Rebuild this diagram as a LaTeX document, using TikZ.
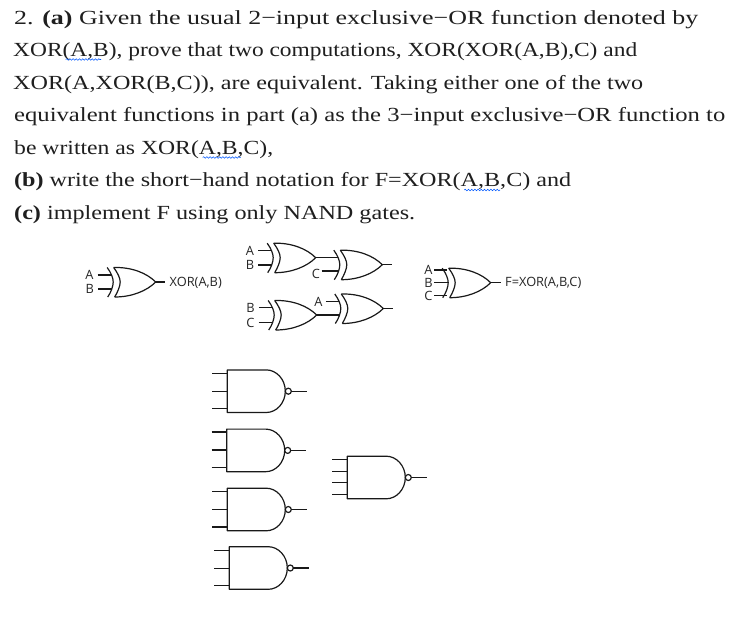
\documentclass[tikz,border=0pt]{standalone}
\usepackage{fontspec}
\setmainfont{Liberation Serif}
\newfontfamily\labelfont{Open Sans}
\usetikzlibrary{decorations.pathmorphing}
\tikzset{
  textline/.style={anchor=base west,inner sep=0pt,font=\fontsize{20}{24}\selectfont,text=black!88},
  lab/.style={inner sep=1.5pt,font=\labelfont\fontsize{12.8}{14}\selectfont,text=black!85},
  gateline/.style={line width=1.2pt,black!90,line join=round},
  wire/.style={line width=1.2pt,black!90},
  squiggle/.style={draw=blue!65!cyan,line width=.55pt,decorate,decoration={snake,amplitude=.8pt,segment length=3.2pt}},
  xorgate/.pic={
    \draw[gateline] (-48.5,-14.5) .. controls (-44.5,-9) and (-42.5,-4) .. (-42.5,0) .. controls (-42.5,4) and (-44.5,10) .. (-48,15);
    \draw[gateline] (-42,-14.5) .. controls (-38,-9) and (-35.5,-4) .. (-35.5,0) .. controls (-35.5,4) and (-38,10) .. (-41,15);
    \draw[gateline] (-42,-14.5) .. controls (-24,-15) and (-9,-9) .. (0,0) .. controls (-9,9) and (-24,15) .. (-41,15);
    \coordinate (-o) at (0,0);
    \coordinate (-a) at (-44,-7.2);
    \coordinate (-b) at (-44,7.2);
    \coordinate (-c) at (-42.5,0);
  },
  nandgate/.pic={
    \draw[gateline] (0,-21.3) -- (39,-21.3) .. controls (49,-21.3) and (58,-12) .. (58,0) .. controls (58,12) and (49,21.3) .. (39,21.3) -- (0,21.3) -- cycle;
    \draw[gateline,fill=white] (61,0) circle (3);
    \coordinate (-o) at (64,0);
    \coordinate (-back) at (0,0);
  }
}
\begin{document}
\begin{tikzpicture}[x=1pt,y=-1pt]
\useasboundingbox[fill=white] (0,0) rectangle (753,622);
% question text
\node[textline] (t1) at (14,24) {\resizebox{684pt}{\height}{2. \textbf{(a)} Given the usual 2−input exclusive−OR function denoted by}};
\node[textline] (t2) at (13,56) {\resizebox{624pt}{\height}{XOR(A,B), prove that two computations, XOR(XOR(A,B),C) and}};
\node[textline] (t3) at (13,89) {\resizebox{630pt}{\height}{XOR(A,XOR(B,C)), are equivalent. Taking either one of the two}};
\node[textline] (t4) at (14,121) {\resizebox{711pt}{\height}{equivalent functions in part (a) as the 3−input exclusive−OR function to}};
\node[textline] (t5) at (14,154) {\resizebox{259pt}{\height}{be written as XOR(A,B,C),}};
\node[textline] (t6) at (14,186) {\resizebox{557pt}{\height}{\textbf{(b)} write the short−hand notation for F=XOR(A,B,C) and}};
\node[textline] (t7) at (14,219) {\resizebox{401pt}{\height}{\textbf{(c)} implement F using only NAND gates.}};
% spell-check underlines
\draw[squiggle] (65.7,59.5) -- (101,59.5);
\draw[squiggle] (202.7,157.5) -- (240.7,157.5);
\draw[squiggle] (464.3,190) -- (500,190);
% single XOR
\pic (g1) at (155.7,282) {xorgate};
\node[lab] (g1A) at (89.3,275) {A};
\node[lab] (g1B) at (89.8,289) {B};
\node[lab,anchor=west] (g1O) at (168,282.5) {XOR(A,B)};
\coordinate (g1e) at (165,282);
\draw[wire] (g1A.east) ++(2.5,0) coordinate (g1As) -- (g1As -| g1-a);
\draw[wire] (g1B.east) ++(2.5,0) coordinate (g1Bs) -- (g1Bs -| g1-b);
\draw[wire] (g1-o) -- (g1e);
% XOR(XOR(A,B),C)
\pic (g2) at (315.7,257.7) {xorgate};
\pic (g3) at (382.3,264.7) {xorgate};
\node[lab] (g2A) at (250,250.5) {A};
\node[lab] (g2B) at (250,265) {B};
\node[lab] (g3C) at (316,274) {C};
\coordinate (g3e) at (391.7,264.7);
\draw[wire] (g2A.east) ++(2.5,0) coordinate (g2As) -- (g2As -| g2-a);
\draw[wire] (g2B.east) ++(2.5,0) coordinate (g2Bs) -- (g2Bs -| g2-b);
\draw[wire] (g2-o) -- (g2-o -| g3-a);
\coordinate (g3Cs) at (321.7,271);
\draw[wire] (g3Cs) -- (g3Cs -| g3-b);
\draw[wire] (g3-o) -- (g3e);
% XOR(A,XOR(B,C))
\pic (g4) at (316.7,315) {xorgate};
\pic (g5) at (383.3,308.5) {xorgate};
\node[lab] (g4B) at (250.5,307.5) {B};
\node[lab] (g4C) at (250.5,322.5) {C};
\node[lab] (g5A) at (318.5,301.5) {A};
\coordinate (g5e) at (392.7,308.5);
\draw[wire] (g4B.east) ++(2.5,0) coordinate (g4Bs) -- (g4Bs -| g4-a);
\draw[wire] (g4C.east) ++(2.5,0) coordinate (g4Cs) -- (g4Cs -| g4-b);
\draw[wire] (g4-o) -- (g4-o -| g5-b);
\draw[wire] (g5A.east) ++(1.5,0) coordinate (g5As) -- (g5As -| g5-a);
\draw[wire] (g5-o) -- (g5e);
% three-input XOR
\pic (g6) at (490.7,282.7) {xorgate};
\node[lab] (g6A) at (428.5,269.5) {A};
\node[lab] (g6B) at (428.5,282.5) {B};
\node[lab] (g6C) at (428.5,295.5) {C};
\node[lab,anchor=west] (g6O) at (503.5,282.7) {F=XOR(A,B,C)};
\coordinate (g6e) at (500.5,282.7);
\draw[wire] (g6A.east) ++(0,.5) coordinate (g6As) -- (g6As -| g6-b);
\draw[wire] (g6B.east) coordinate (g6Bs) -- (g6Bs -| g6-c);
\draw[wire] (g6C.east) coordinate (g6Cs) -- (g6Cs -| g6-b);
\draw[wire] (g6-o) -- (g6e);
% NAND gates
\foreach \n/\x/\y/\s/\e/\ya/\yb/\yc in {
  n1/227.3/391.2/212.3/306.7/373.3/391.7/408.7,
  n2/226.7/450.4/211.7/306/432/450/467.7,
  n3/227.3/509.5/212.3/306.7/491.7/509.3/527,
  n4/229.3/568/214/308.7/550.7/568.3/585.7}{
  \pic (\n) at (\x,\y) {nandgate};
  \coordinate (\n e) at (\e,\y);
  \draw[wire] (\n-o) -- (\n e);
  \coordinate (\n a) at (\s,\ya);
  \coordinate (\n b) at (\s,\yb);
  \coordinate (\n c) at (\s,\yc);
  \draw[wire] (\n a) -- (\n a -| \n-back);
  \draw[wire] (\n b) -- (\n b -| \n-back);
  \draw[wire] (\n c) -- (\n c -| \n-back);
}
\pic (n5) at (347.3,477.5) {nandgate};
\coordinate (n5e) at (426.7,477.5);
\draw[wire] (n5-o) -- (n5e);
\foreach \k/\yy in {a/459.3,b/471.7,c/482.7,d/494.3}{
  \coordinate (n5\k) at (332.3,\yy);
  \draw[wire] (n5\k) -- (n5\k -| n5-back);
}
\end{tikzpicture}
\end{document}
